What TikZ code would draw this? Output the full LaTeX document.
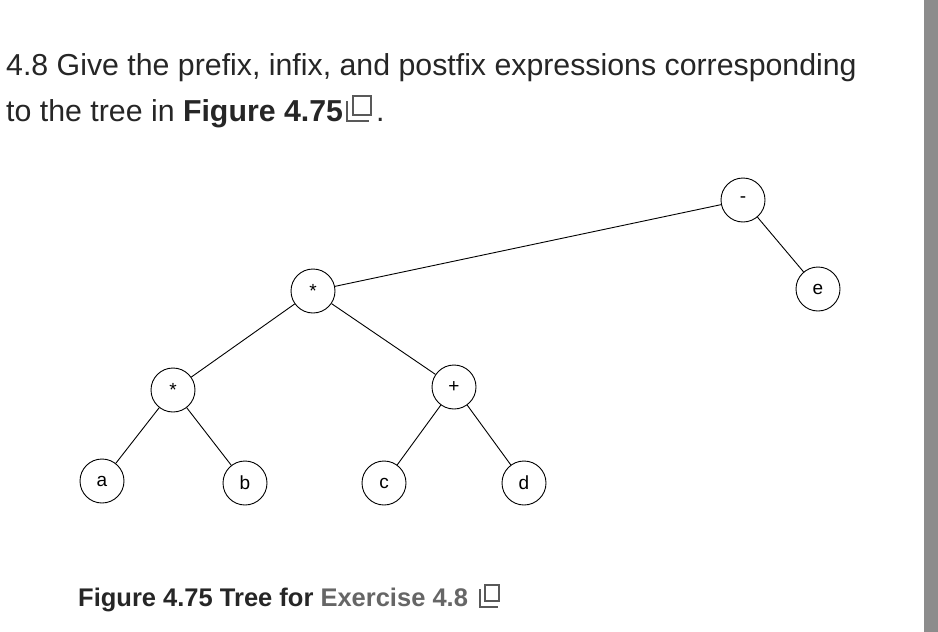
\documentclass[tikz,border=0pt]{standalone}
\usepackage{fontspec}
\setmainfont{Liberation Sans}
\begin{document}
\begin{tikzpicture}[x=1pt,y=-1pt,
  tn/.style={circle,draw,line width=0.9pt,minimum size=44pt,inner sep=0pt,font=\fontsize{19}{19}\selectfont},
  edge/.style={line width=0.9pt},
  icon/.style={draw=black!65,line width=2.4pt}]
\fill[white] (0,0) rectangle (938,632);
\fill[black!45] (924,0) rectangle (938,632);
\node[anchor=base west,inner sep=0pt,font=\fontsize{30.3}{30}\selectfont,text=black!85] (t1) at (6,75) {4.8 Give the prefix, infix, and postfix expressions corresponding};
\node[anchor=base west,inner sep=0pt,font=\fontsize{30.3}{30}\selectfont,text=black!85] (t2) at (6,121) {to the tree in \textbf{Figure 4.75}};
\draw[icon] (347,101) -- (347,121) -- (369,121);
\draw[icon] (353,96) rectangle (371,115);
\node[anchor=base west,inner sep=0pt,font=\fontsize{30.3}{30}\selectfont,text=black!85] (dot) at (376,121) {.};
\node[tn] (m) at (743,200) {-};
\node[tn] (e) at (818,289) {e};
\node[tn] (s1) at (313,291) {*};
\node[tn] (s2) at (173,390) {*};
\node[tn] (p) at (454,387) {+};
\node[tn] (a) at (102,481) {a};
\node[tn] (b) at (245,483) {b};
\node[tn] (c) at (384,483) {c};
\node[tn] (d) at (524,483) {d};
\draw[edge] (m) -- (e);
\draw[edge] (m) -- (s1);
\draw[edge] (s1) -- (s2);
\draw[edge] (s1) -- (p);
\draw[edge] (s2) -- (a);
\draw[edge] (s2) -- (b);
\draw[edge] (p) -- (c);
\draw[edge] (p) -- (d);
\node[anchor=base west,inner sep=0pt,font=\bfseries\fontsize{25.5}{25}\selectfont,text=black!85] (cap) at (78,606) {Figure 4.75 Tree for \textcolor{black!60}{Exercise 4.8}};
\draw[icon,line width=2pt] (480,589) -- (480,607) -- (498,607);
\draw[icon,line width=2pt] (485,585) rectangle (499,601);
\begin{scope}
\clip (0,0) rectangle (938,632);
\node[anchor=base west,inner sep=0pt,font=\bfseries\fontsize{27}{27}\selectfont,text=black!85] (nx) at (24,652) {4.9};
\end{scope}
\useasboundingbox (0,0) rectangle (938,632);
\end{tikzpicture}
\end{document}
